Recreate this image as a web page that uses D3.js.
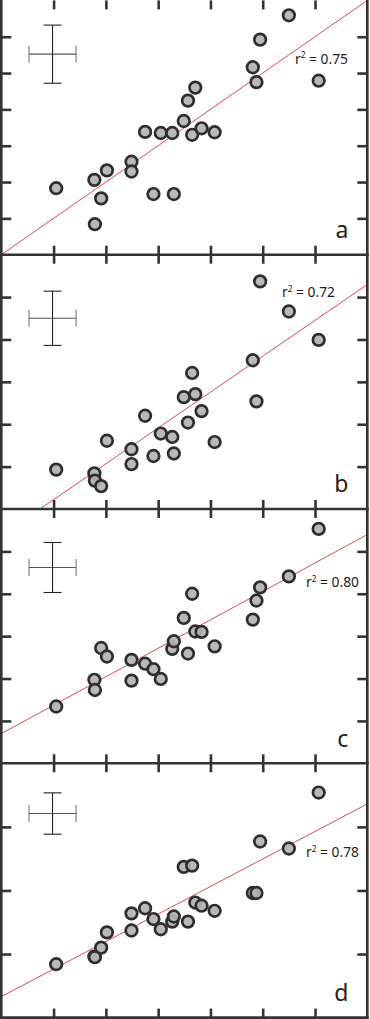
<!DOCTYPE html>
<html>
<head>
<meta charset="utf-8">
<script src="https://cdn.jsdelivr.net/npm/d3@7"></script>
<style>
  body { margin: 0; background: #fff; }
  svg { display: block; }
  .tick line { stroke: #333; stroke-width: 2.6; }
  .note { font-family: "Noto Sans", sans-serif; fill: #222; }
</style>
</head>
<body>
<div class="chart"></div>
<script>
// shared x values (same samples in every panel)
const xVals = [1.05, 1.78, 1.79, 1.91, 2.02, 2.49, 2.49, 2.75, 2.91, 3.05, 3.27, 3.30,
               3.49, 3.57, 3.65, 3.71, 3.83, 4.08, 4.81, 4.88, 4.95, 5.50, 6.07];

const yA = [1.83, 2.06, 0.84, 1.55, 2.32, 2.56, 2.29, 3.38, 1.67, 3.35, 3.35, 1.67,
            3.68, 4.24, 3.30, 4.60, 3.48, 3.37, 5.16, 4.75, 5.92, 6.59, 4.79];
const yB = [0.93, 0.84, 0.67, 0.54, 1.61, 1.41, 1.06, 2.20, 1.25, 1.78, 1.70, 1.31,
            2.64, 2.04, 3.21, 2.71, 2.31, 1.58, 3.51, 2.54, 5.37, 4.66, 3.99];
const yC = [1.34, 1.97, 1.73, 2.72, 2.52, 2.44, 1.95, 2.35, 2.22, 1.99, 2.70, 2.88,
            3.43, 2.59, 4.00, 3.11, 3.10, 2.76, 3.39, 3.84, 4.15, 4.41, 5.53];
const yD = [0.84, 0.96, 0.95, 1.10, 1.34, 1.64, 1.37, 1.72, 1.55, 1.39, 1.51, 1.59,
            2.37, 1.51, 2.39, 1.81, 1.76, 1.68, 1.96, 1.96, 2.77, 2.66, 3.54];

const panelNames = ["a", "b", "c", "d"];
const r2Labels = ["0.75", "0.72", "0.80", "0.78"];
const yMax = [7, 6, 6, 4];               // y tick intervals per panel
const fitIntercept = [0, -0.626, 0.70, 0.33];
const fitSlope = [1, 0.846, 0.671, 0.433];
const errCenterY = [5.52, 4.50, 4.62, 3.21];
const errHalfY = [0.80, 0.64, 0.59, 0.325];
const errCenterX = 0.98, errHalfX = 0.45;

const ySeries = [yA, yB, yC, yD];

const width = 370, height = 1019;
const left = 1.3, right = 367.3, top0 = 0.4, panelH = 254.3;
const W = right - left;
// label offsets inside each panel
const r2Pos = [[295, 63.6], [282, 42.7], [306, 78.2], [306, 94.1]];

const svg = d3.select(".chart")
  .append("svg")
  .attr("width", width)
  .attr("height", height);

const xScale = d3.scaleLinear().domain([0, 7]).range([0, W]);

panelNames.forEach((name, p) => {
  const g = svg.append("g")
    .attr("transform", `translate(${left}, ${top0 + p * panelH})`);

  const yScale = d3.scaleLinear().domain([0, yMax[p]]).range([panelH, 0]);

  const clipId = "clip-" + name;
  g.append("clipPath").attr("id", clipId)
    .append("rect").attr("width", W).attr("height", panelH);

  // ticks on all four sides, pointing inward
  const xt = d3.range(1, 7), yt = d3.range(1, yMax[p]);
  g.append("g").call(d3.axisBottom(xScale).tickValues(xt).tickSize(9).tickFormat(""));
  g.append("g").attr("transform", `translate(0,${panelH})`)
    .call(d3.axisTop(xScale).tickValues(xt).tickSize(9).tickFormat(""));
  g.append("g").call(d3.axisRight(yScale).tickValues(yt).tickSize(10).tickFormat(""));
  g.append("g").attr("transform", `translate(${W},0)`)
    .call(d3.axisLeft(yScale).tickValues(yt).tickSize(10).tickFormat(""));
  g.selectAll(".domain").remove();

  // fit line
  g.append("line")
    .attr("clip-path", `url(#${clipId})`)
    .attr("x1", xScale(-0.1)).attr("y1", yScale(fitIntercept[p] + fitSlope[p] * -0.1))
    .attr("x2", xScale(7.1)).attr("y2", yScale(fitIntercept[p] + fitSlope[p] * 7.1))
    .attr("stroke", "#d23a44")
    .attr("stroke-width", 0.9);

  // error bar cross
  const cx = xScale(errCenterX), cy = yScale(errCenterY[p]);
  const yTop = yScale(errCenterY[p] + errHalfY[p]), yBot = yScale(errCenterY[p] - errHalfY[p]);
  const xL = xScale(errCenterX - errHalfX), xR = xScale(errCenterX + errHalfX);
  const err = g.append("g").attr("fill", "none").attr("stroke-width", 1.1);
  err.append("line").attr("x1", xL).attr("x2", xR).attr("y1", cy).attr("y2", cy).attr("stroke", "#555");
  err.append("line").attr("x1", xL).attr("x2", xL).attr("y1", cy - 8.5).attr("y2", cy + 8.5).attr("stroke", "#777");
  err.append("line").attr("x1", xR).attr("x2", xR).attr("y1", cy - 8.5).attr("y2", cy + 8.5).attr("stroke", "#777");
  err.append("line").attr("x1", cx).attr("x2", cx).attr("y1", yTop).attr("y2", yBot).attr("stroke", "#222");
  err.append("line").attr("x1", cx - 9).attr("x2", cx + 9).attr("y1", yTop).attr("y2", yTop).attr("stroke", "#222");
  err.append("line").attr("x1", cx - 9).attr("x2", cx + 9).attr("y1", yBot).attr("y2", yBot).attr("stroke", "#222");

  // points
  g.selectAll("circle")
    .data(xVals.map((x, i) => ({x: x, y: ySeries[p][i]})))
    .enter()
    .append("circle")
    .attr("cx", d => xScale(d.x))
    .attr("cy", d => yScale(d.y))
    .attr("r", 5.8)
    .attr("fill", "#b3b3b3")
    .attr("fill-opacity", 0.92)
    .attr("stroke", "#2e2e2e")
    .attr("stroke-width", 2.7);

  // r² label
  const t = g.append("text").attr("class", "note")
    .attr("x", r2Pos[p][0] - left).attr("y", r2Pos[p][1])
    .attr("font-size", 14)
    .attr("textLength", 53)
    .attr("lengthAdjust", "spacingAndGlyphs");
  t.append("tspan").text("r");
  t.append("tspan").attr("font-size", 8.5).attr("dy", -5.5).text("2");
  t.append("tspan").attr("dy", 5.5).text(" = " + r2Labels[p]);

  // panel letter
  g.append("text").attr("class", "note")
    .attr("x", W - 19).attr("y", panelH - 16.5)
    .attr("text-anchor", "end")
    .attr("font-size", 23)
    .text(name);

  // frame: left, right, bottom (top comes from panel above / off canvas)
  const frame = g.append("g").attr("stroke", "#333").attr("stroke-width", 2.6);
  frame.append("line").attr("x1", 0).attr("x2", 0).attr("y1", -1.3).attr("y2", panelH + 1.3);
  frame.append("line").attr("x1", W).attr("x2", W).attr("y1", -1.3).attr("y2", panelH + 1.3);
  frame.append("line").attr("x1", -1.3).attr("x2", W + 1.3).attr("y1", panelH).attr("y2", panelH);
});
</script>
</body>
</html>
